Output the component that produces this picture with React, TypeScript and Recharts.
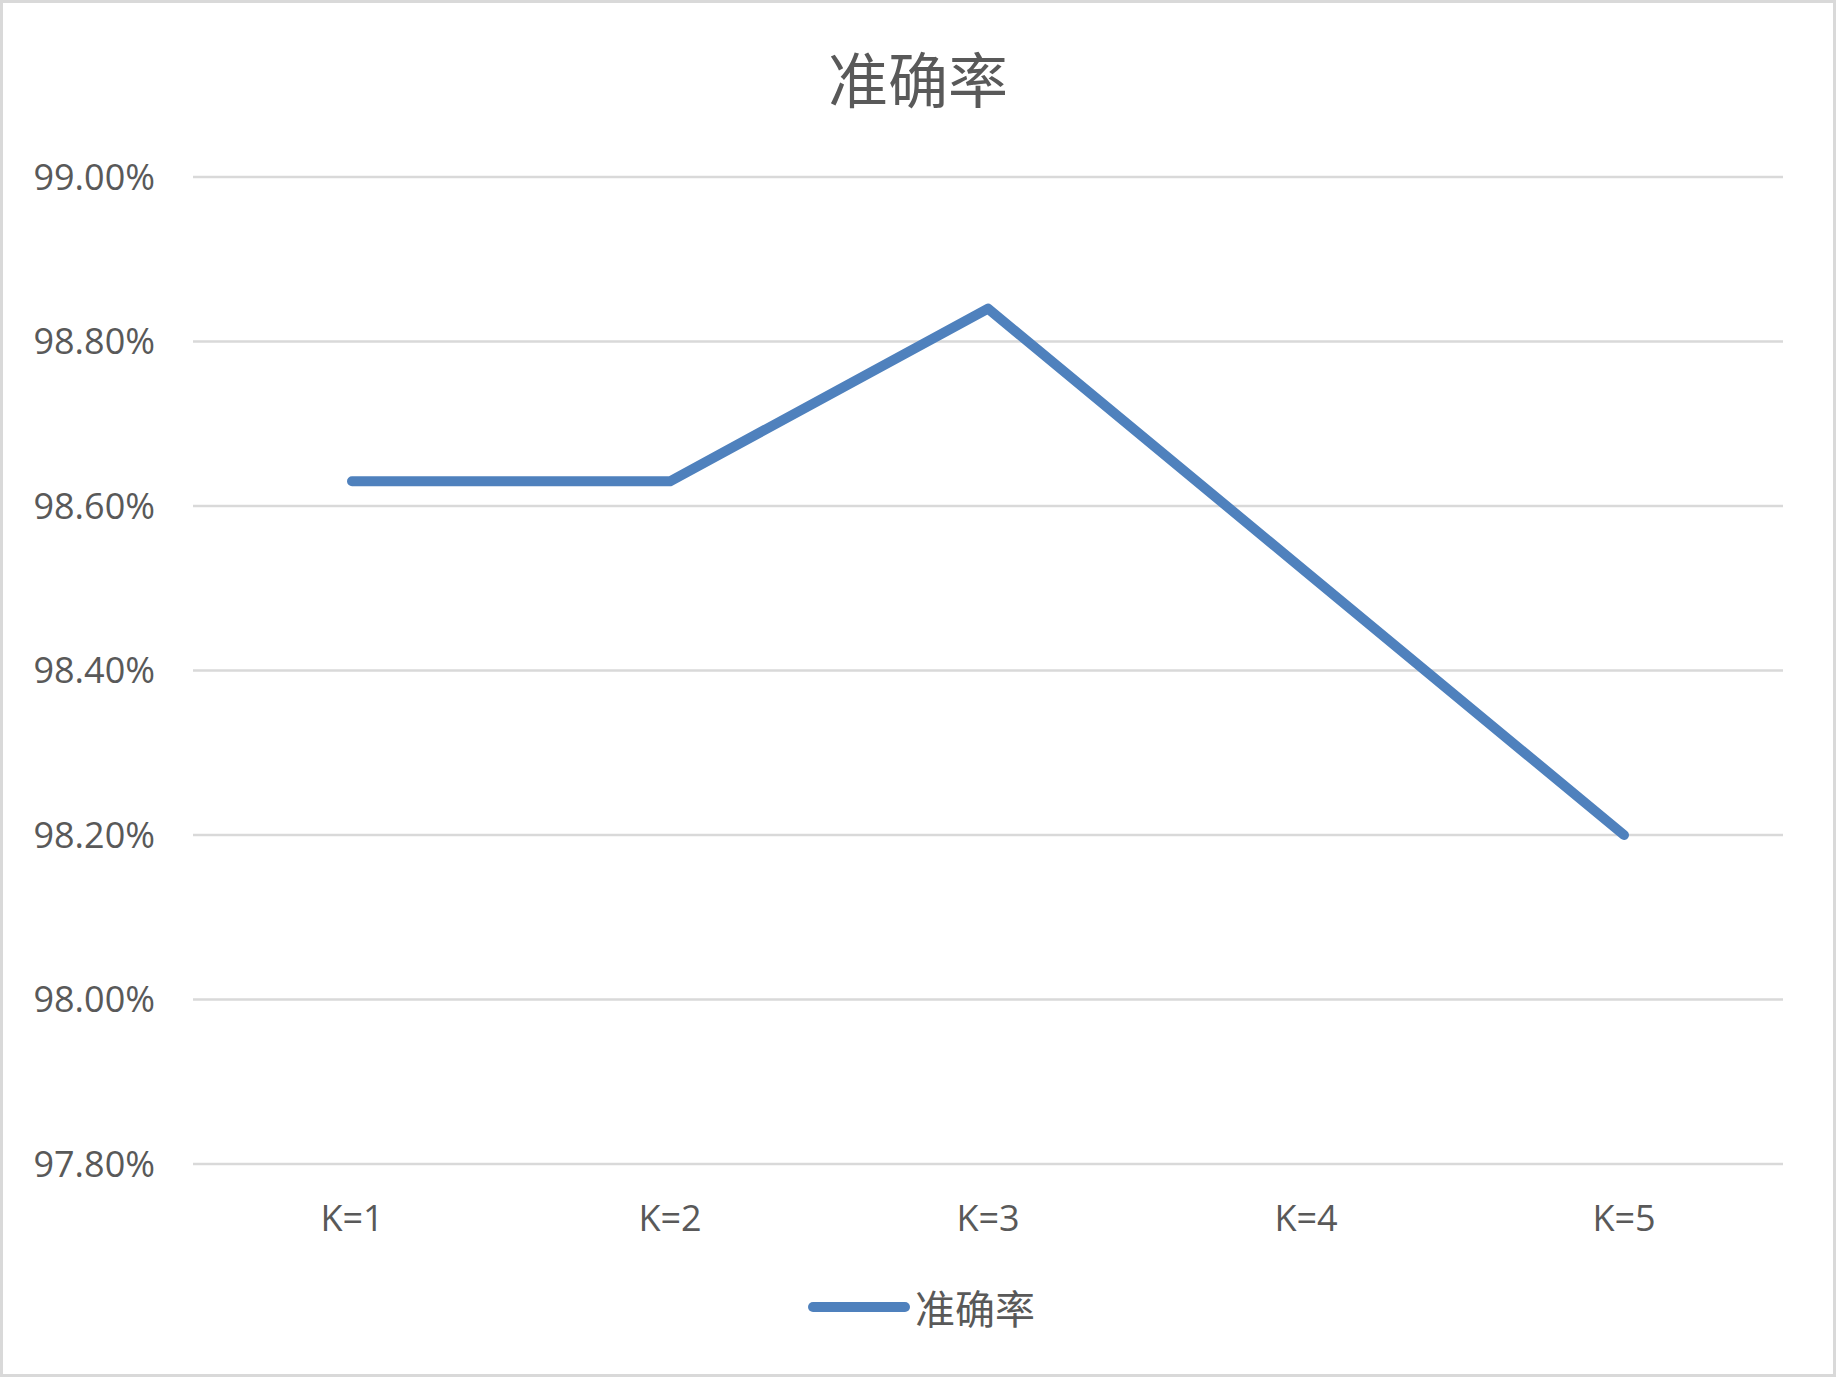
import React from 'react';
import { LineChart, Line, XAxis, YAxis, CartesianGrid } from 'recharts';

// 准确率 vs K
const categories = ['K=1', 'K=2', 'K=3', 'K=4', 'K=5'];
const accuracy = [98.63, 98.63, 98.84, 98.52, 98.2];
const yTicks = [97.8, 98.0, 98.2, 98.4, 98.6, 98.8, 99.0];
const seriesName = '准确率';

const W = 1836;
const H = 1377;
const LINE_COLOR = '#4f81bd';
const TEXT_COLOR = '#595959';
const LATIN = '"Open Sans", "Noto Sans", sans-serif';
const CJK = '"Noto Sans CJK SC", "Noto Sans", sans-serif';

const chartData = categories.map((k, i) => ({ k, value: accuracy[i] }));

function LegendBox() {
  return (
    <div
      style={{
        position: 'absolute',
        top: 1287,
        left: 0,
        width: W,
        display: 'flex',
        justifyContent: 'center',
        alignItems: 'center',
        paddingLeft: 6,
        boxSizing: 'border-box',
      }}
    >
      <svg width={104} height={14} style={{ display: 'block' }}>
        <line x1={6} y1={7} x2={98} y2={7} stroke={LINE_COLOR} strokeWidth={10} strokeLinecap="round" />
      </svg>
      <span style={{ fontFamily: CJK, fontSize: 40, color: TEXT_COLOR, marginLeft: 4, lineHeight: 1 }}>
        {seriesName}
      </span>
    </div>
  );
}

export default function App() {
  return (
    <div style={{ position: 'absolute', top: 0, left: 0, width: W, height: H, background: '#fff' }}>
      <div
        style={{
          position: 'absolute',
          top: 45,
          left: 0,
          width: W,
          textAlign: 'center',
          fontFamily: CJK,
          fontSize: 60,
          lineHeight: '64px',
          color: TEXT_COLOR,
        }}
      >
        {seriesName}
      </div>
      <LineChart
        width={W}
        height={H}
        data={chartData}
        margin={{ top: 177, right: 53, bottom: 183, left: 0 }}
        style={{ position: 'absolute', top: 0, left: 0 }}
      >
        <CartesianGrid vertical={false} stroke="#d9d9d9" strokeWidth={2.5} />
        <XAxis
          dataKey="k"
          height={30}
          axisLine={false}
          tickLine={false}
          tickSize={0}
          tickMargin={41}
          padding={{ left: 159, right: 159 }}
          tick={{ fill: TEXT_COLOR, fontSize: 36, fontFamily: LATIN }}
        />
        <YAxis
          width={193}
          domain={[97.8, 99]}
          ticks={yTicks}
          axisLine={false}
          tickLine={false}
          tickSize={0}
          tickMargin={38}
          tickFormatter={(v: number) => v.toFixed(2) + '%'}
          tick={{ fill: TEXT_COLOR, fontSize: 36, fontFamily: LATIN }}
        />
        <Line
          type="linear"
          dataKey="value"
          name={seriesName}
          stroke={LINE_COLOR}
          strokeWidth={10}
          strokeLinecap="round"
          strokeLinejoin="round"
          dot={false}
          activeDot={false}
          isAnimationActive={false}
        />
      </LineChart>
      <LegendBox />
      <div
        style={{
          position: 'absolute',
          inset: 0,
          border: '3px solid #d9d9d9',
          pointerEvents: 'none',
        }}
      />
    </div>
  );
}
